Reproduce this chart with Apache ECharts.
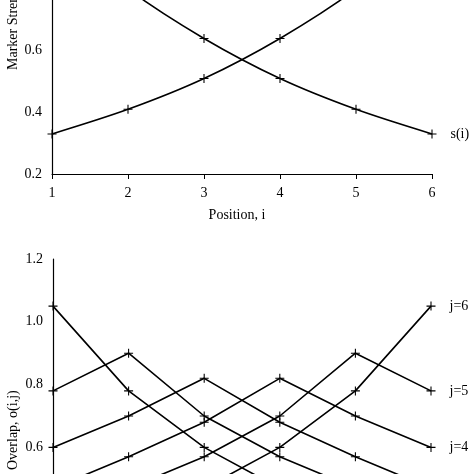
<!DOCTYPE html>
<html><head><meta charset="utf-8">
<script src="https://cdn.jsdelivr.net/npm/echarts@6/dist/echarts.min.js"></script>
<style>html,body{margin:0;background:#fff;overflow:hidden;width:474px;height:474px}#c{width:474px;height:740px;margin-top:-141px}</style>
</head><body><div id="c"></div>
<script>
var positions = ['1', '2', '3', '4', '5', '6'];
// marker strength curves
var strengthUp = [0.33, 0.41, 0.51, 0.64, 0.80, 1.00];
var strengthDown = [1.00, 0.80, 0.64, 0.51, 0.41, 0.33];
// overlap o(i,j), j=1..6
var overlapJ1 = [1.05, 0.78, 0.60, 0.47, 0.38, 0.31];
var overlapJ2 = [0.78, 0.90, 0.70, 0.57, 0.47, 0.38];
var overlapJ3 = [0.60, 0.70, 0.82, 0.68, 0.57, 0.47];
var overlapJ4 = [0.47, 0.57, 0.68, 0.82, 0.70, 0.60];
var overlapJ5 = [0.38, 0.47, 0.57, 0.70, 0.90, 0.78];
var overlapJ6 = [0.31, 0.38, 0.47, 0.60, 0.78, 1.05];

var chart = echarts.init(document.getElementById('c'));
var font = 'Liberation Serif';
var plus = 'path://M4.4,0H5.6V4.4H10V5.6H5.6V10H4.4V5.6H0V4.4H4.4Z';

function withEndLabel(arr, text) {
  return arr.map(function (v, i) {
    if (i === arr.length - 1 && text) {
      return { value: v, label: { show: true, position: 'right', distance: 14, formatter: text,
        color: '#000', fontFamily: font, fontSize: 14 } };
    }
    return v;
  });
}

function mk(arr, g, smooth, text) {
  return {
    type: 'line', xAxisIndex: g, yAxisIndex: g, smooth: smooth ? 0.3 : false,
    data: withEndLabel(arr, text), symbol: plus, symbolSize: 9,
    lineStyle: { color: '#000', width: 1.6 }, itemStyle: { color: '#000' },
    label: { show: false }, emphasis: { disabled: true }
  };
}

var axisCommon = {
  axisLine: { lineStyle: { color: '#000', width: 1.2 } },
  axisTick: { lineStyle: { color: '#000' }, length: 5 },
  axisLabel: { color: '#000', fontFamily: font, fontSize: 14 },
  splitLine: { show: false }
};

chart.setOption({
  animation: false,
  grid: [
    { left: 52, right: 42, top: 0, height: 315 },
    { left: 53, right: 43, top: 400, height: 319 }
  ],
  xAxis: [0, 1].map(function (g) {
    return Object.assign({ type: 'category', data: positions, boundaryGap: false, gridIndex: g,
      axisLabel: Object.assign({}, axisCommon.axisLabel, { margin: 12 }) },
      { axisLine: axisCommon.axisLine, axisTick: axisCommon.axisTick, splitLine: axisCommon.splitLine });
  }),
  yAxis: [0, 1].map(function (g) {
    return Object.assign({ type: 'value', min: 0.2, max: 1.2, interval: 0.2, gridIndex: g,
      axisLabel: Object.assign({}, axisCommon.axisLabel, { margin: 10,
        formatter: function (v) { return v.toFixed(1); } }) },
      { axisLine: Object.assign({ show: true }, axisCommon.axisLine), axisTick: axisCommon.axisTick,
        splitLine: axisCommon.splitLine });
  }),
  graphic: [
    { type: 'text', left: 'center', top: 349,
      style: { text: 'Position, i', font: '14px "Liberation Serif"', fill: '#000' } },
    { type: 'text', x: 6, y: 211, rotation: Math.PI / 2,
      style: { text: 'Marker Strength, s(i)', font: '14px "Liberation Serif"', fill: '#000',
        align: 'left', verticalAlign: 'top' } },
    { type: 'text', x: 6, y: 611, rotation: Math.PI / 2,
      style: { text: 'Overlap, o(i,j)', font: '14px "Liberation Serif"', fill: '#000',
        align: 'left', verticalAlign: 'top' } }
  ],
  series: [
    mk(strengthUp, 0, true),
    mk(strengthDown, 0, true, 's(i)'),
    mk(overlapJ1, 1, false),
    mk(overlapJ2, 1, false),
    mk(overlapJ3, 1, false),
    mk(overlapJ4, 1, false, 'j=4'),
    mk(overlapJ5, 1, false, 'j=5'),
    mk(overlapJ6, 1, false, 'j=6')
  ]
});
</script></body></html>
